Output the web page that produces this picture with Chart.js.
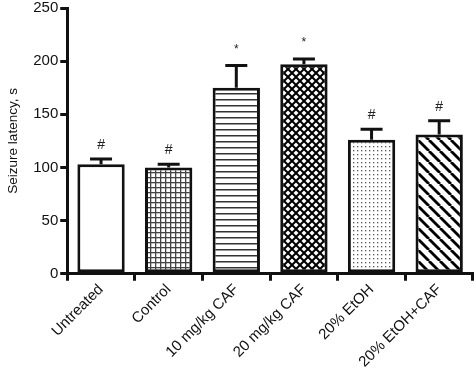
<!DOCTYPE html>
<html>
<head>
<meta charset="utf-8">
<script src="https://cdn.jsdelivr.net/npm/chart.js@4"></script>
<style>
  html, body { margin: 0; padding: 0; background: #fff; overflow: hidden; }
  #wrap { width: 474px; height: 374px; margin-top: -3px; }
</style>
</head>
<body>
<div id="wrap"><canvas id="latency"></canvas></div>
<script>
const groups = ["Untreated", "Control", "10 mg/kg CAF", "20 mg/kg CAF", "20% EtOH", "20% EtOH+CAF"];
const latency = [103, 100, 175, 197, 126, 131];
const sem = [5, 3, 21, 5, 10, 13];
const marks = ["#", "#", "*", "*", "#", "#"];
const yTicks = [0, 50, 100, 150, 200, 250];

// small tiles used as bar fills
function tile(size, draw) {
  const c = document.createElement("canvas");
  c.width = size; c.height = size;
  const g = c.getContext("2d");
  g.fillStyle = "#fff";
  g.fillRect(0, 0, size, size);
  draw(g, size);
  return g.createPattern(c, "repeat");
}

const fills = [
  "#fff",
  tile(5, (g, s) => {
    g.fillStyle = "#444";
    g.fillRect(0, 0, s, 1.3);
    g.fillRect(0, 0, 1.3, s);
  }),
  tile(6, (g, s) => {
    g.fillStyle = "#333";
    g.fillRect(0, 0, s, 1.5);
  }),
  tile(8, (g, s) => {
    g.strokeStyle = "#000";
    g.lineWidth = 2;
    for (const o of [-s, 0, s]) {
      g.beginPath(); g.moveTo(o, 0); g.lineTo(o + s, s); g.stroke();
      g.beginPath(); g.moveTo(o + s, 0); g.lineTo(o, s); g.stroke();
    }
  }),
  tile(4, (g) => {
    g.fillStyle = "#555";
    g.fillRect(1, 1, 1.3, 1.3);
  }),
  tile(11, (g, s) => {
    g.strokeStyle = "#000";
    g.lineWidth = 2.8;
    for (const o of [-s, 0, s]) {
      g.beginPath(); g.moveTo(o, 0); g.lineTo(o + s, s); g.stroke();
    }
  })
];

// error bars (upper only) and significance marks
const errorBars = {
  id: "errorBars",
  afterDatasetsDraw(chart) {
    const ctx = chart.ctx;
    const y = chart.scales.y;
    const meta = chart.getDatasetMeta(0);
    ctx.save();
    ctx.strokeStyle = "#111";
    ctx.lineWidth = 3;
    meta.data.forEach((bar, i) => {
      const top = y.getPixelForValue(latency[i] + sem[i]);
      const base = y.getPixelForValue(latency[i]);
      ctx.beginPath();
      ctx.moveTo(bar.x, base);
      ctx.lineTo(bar.x, top);
      ctx.moveTo(bar.x - 11, top);
      ctx.lineTo(bar.x + 11, top);
      ctx.stroke();
      ctx.fillStyle = "#222";
      ctx.textAlign = "center";
      ctx.textBaseline = "bottom";
      ctx.font = marks[i] === "*" ? "12px 'Liberation Sans'" : "14px 'Liberation Sans'";
      ctx.fillText(marks[i], bar.x, top - (marks[i] === "*" ? 10 : 7));
    });
    ctx.restore();
  }
};

const ctx = document.getElementById("latency").getContext("2d");
new Chart(ctx, {
  type: "bar",
  data: {
    labels: groups,
    datasets: [{
      data: latency,
      backgroundColor: fills,
      borderColor: "#111",
      borderWidth: 3,
      borderSkipped: false,
      barPercentage: 0.7,
      categoryPercentage: 1
    }]
  },
  options: {
    responsive: true,
    maintainAspectRatio: false,
    animation: false,
    layout: { padding: { top: 0, right: 1, left: 5, bottom: 0 } },
    plugins: {
      legend: { display: false },
      tooltip: { enabled: false }
    },
    scales: {
      y: {
        min: 0,
        max: 250,
        afterBuildTicks: (axis) => { axis.ticks = yTicks.map(v => ({ value: v })); },
        border: { color: "#111", width: 3 },
        grid: { drawOnChartArea: false, color: "#111", lineWidth: 3, tickLength: 7 },
        ticks: { color: "#111", font: { family: "Liberation Sans", size: 15 }, padding: 2 },
        title: {
          display: true,
          text: "Seizure latency, s",
          color: "#111",
          font: { family: "Liberation Sans", size: 13.5 },
          padding: { top: 0, bottom: 10 }
        }
      },
      x: {
        border: { color: "#111", width: 3 },
        grid: { drawOnChartArea: false, color: "#111", lineWidth: 3, tickLength: 7 },
        ticks: {
          color: "#111",
          font: { family: "Liberation Sans", size: 15 },
          minRotation: 45,
          maxRotation: 45,
          padding: 0
        }
      }
    }
  },
  plugins: [errorBars]
});
</script>
</body>
</html>
